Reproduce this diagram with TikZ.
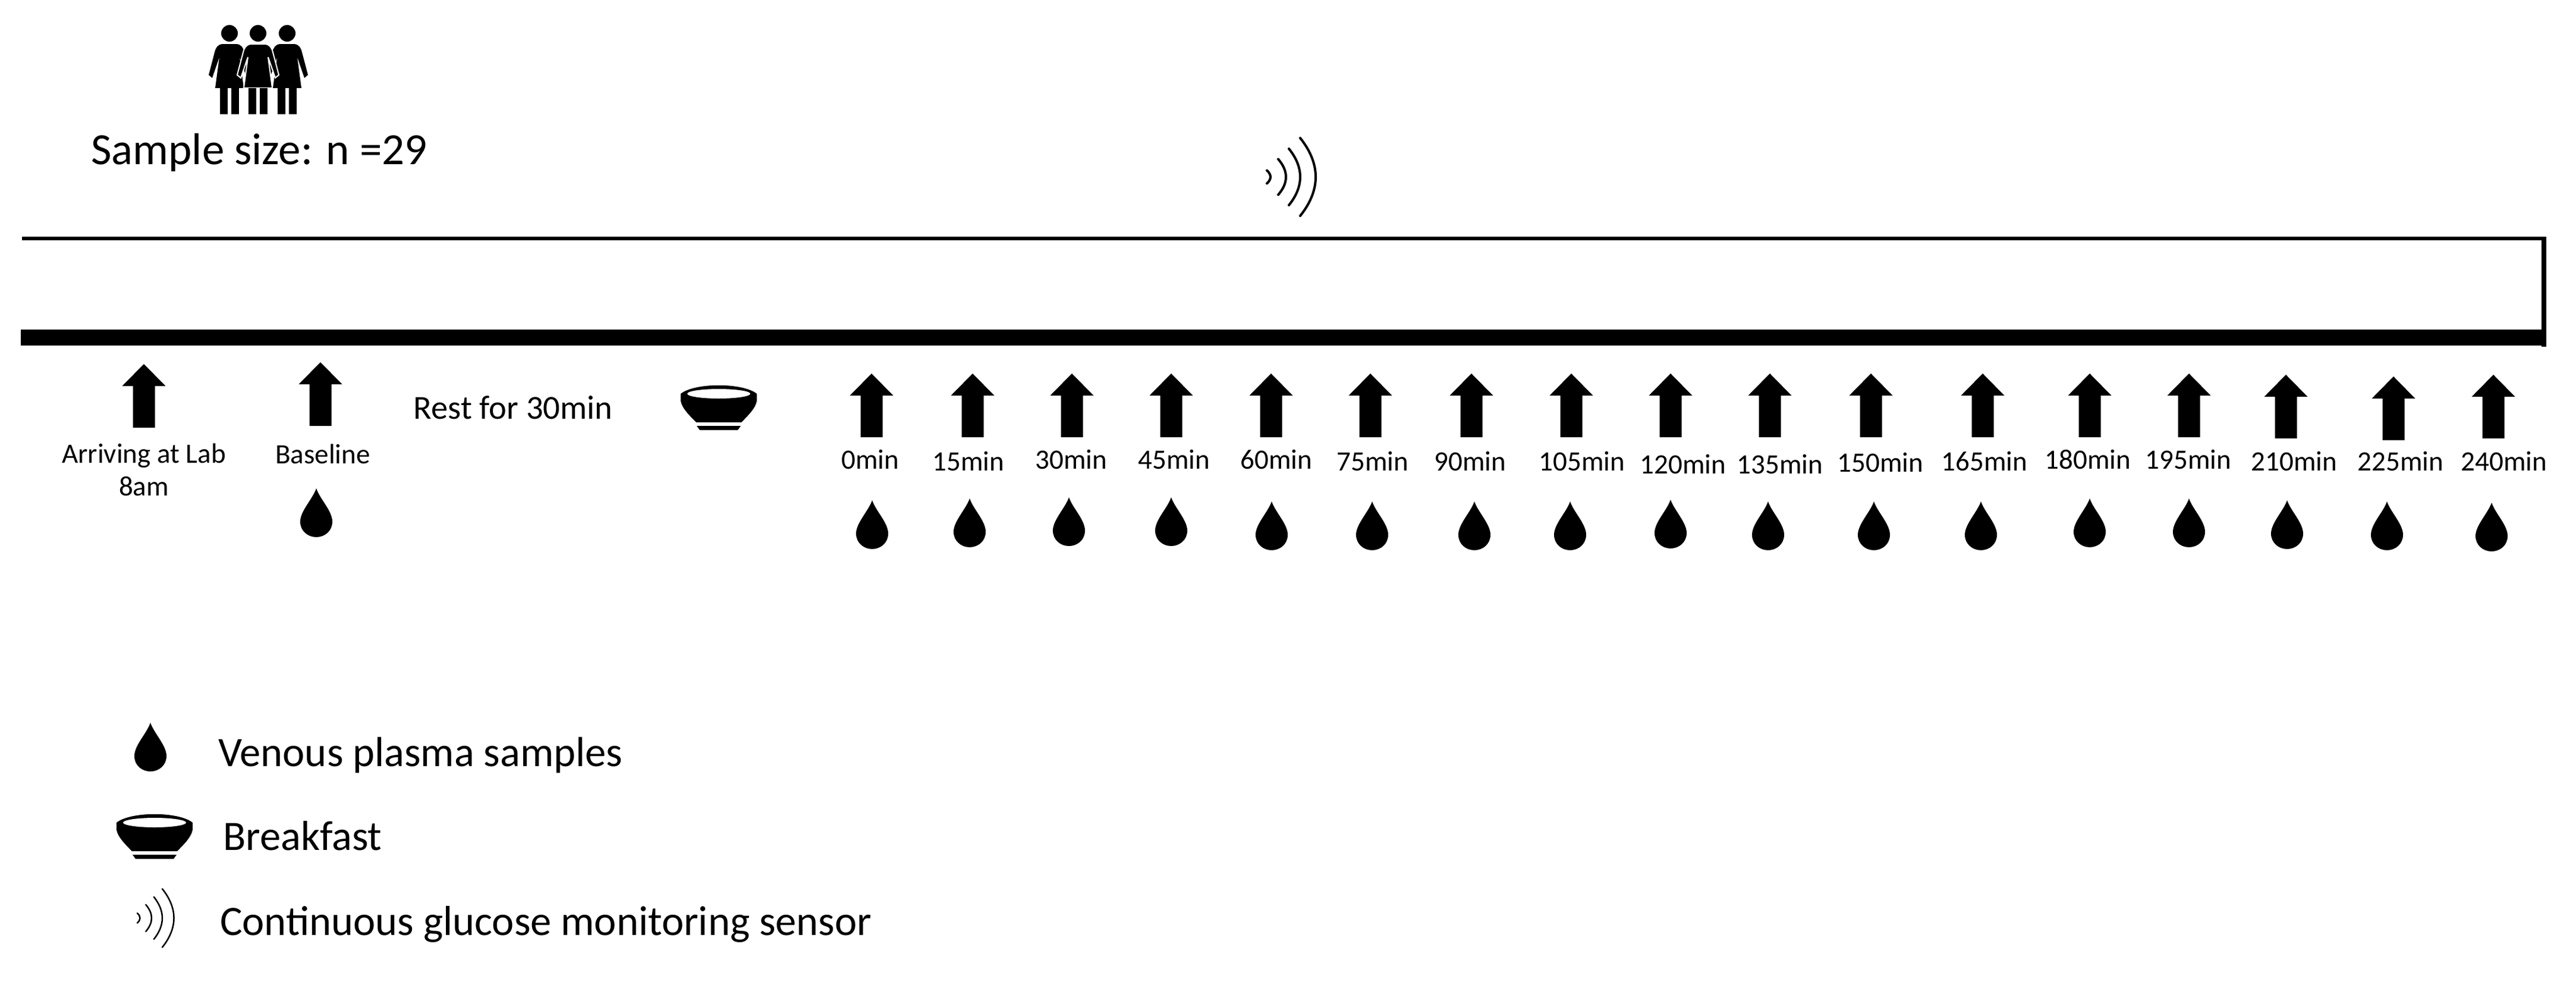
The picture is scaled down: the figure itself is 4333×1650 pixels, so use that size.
\documentclass[tikz,border=0pt]{standalone}
\usepackage{fontspec}
\setmainfont{Carlito}

\tikzset{
  biglabel/.style={anchor=base, inner sep=0pt, font=\fontsize{75}{88}\selectfont},
  leglabel/.style={anchor=base west, inner sep=0pt, font=\fontsize{70.5}{84}\selectfont},
  midlabel/.style={anchor=base, inner sep=0pt, font=\fontsize{56.5}{66}\selectfont},
  timelabel/.style={anchor=base, inner sep=0pt, font=\fontsize{47}{55}\selectfont},
  pics/uparrow/.style={code={
    \fill (0,0) -- (36.5,37) -- (18.5,37) -- (18.5,107) -- (-18.5,107) -- (-18.5,37) -- (-36.5,37) -- cycle;
  }},
  pics/blooddrop/.style={code={
    \fill (0,0) .. controls (-6,18) and (-27,38) .. (-27,56) .. controls (-27,72) and (-14,82) .. (0,82)
      .. controls (14,82) and (27,72) .. (27,56) .. controls (27,38) and (6,18) .. (0,0) -- cycle;
  }},
  pics/bowl/.style={code={
    \fill (-64,14) .. controls (-40,-5) and (40,-5) .. (64,14) -- (64,26) .. controls (62,38) and (50,50) .. (38,62)
      -- (-38,62) .. controls (-50,50) and (-62,38) .. (-64,26) -- cycle;
    \fill (-37,68) -- (37,68) -- (32,75) -- (-32,75) -- cycle;
    \fill[white] (0,14) ellipse [x radius=53, y radius=8];
  }},
  pics/waves/.style={code={
    \draw[line width=#1, line cap=round] (0,-11) .. controls (8,-3.7) and (8,3.7) .. (0,11);
    \draw[line width=#1, line cap=round] (19,-30) .. controls (36.3,-10) and (36.3,10) .. (19,30);
    \draw[line width=#1, line cap=round] (37,-47.5) .. controls (62.3,-15.8) and (62.3,15.8) .. (37,47.5);
    \draw[line width=#1, line cap=round] (56,-65.5) .. controls (90.7,-21.8) and (90.7,21.8) .. (56,65.5);
  }},
  pics/woman/.style={code={
    \filldraw[fill=black, draw=#1, line width=2] (-12,32) -- (12,32) .. controls (20,33) and (23,38) .. (25,46)
      -- (35,84) -- (29,89) -- (17,54) -- (24,106) -- (-24,106) -- (-17,54) -- (-29,89) -- (-35,84) -- (-25,46)
      .. controls (-23,38) and (-20,33) .. (-12,32) -- cycle;
    \fill (0,14) circle [radius=14];
    \fill (-16,106) rectangle (-3,150);
    \fill (3,106) rectangle (16,150);
  }},
}

\begin{document}
\begin{tikzpicture}[x=1pt, y=-1pt]
  \useasboundingbox (0,0) rectangle (4333,1650);

  % participants
  \pic at (386,42) {woman=none};
  \pic at (483,42) {woman=none};
  \pic at (434,42) {woman=white};
  \node[biglabel] (samplesize) at (436,276) {Sample size: n =29};

  % sensor and timeline
  \pic at (2131,297.5) {waves=4};
  \coordinate (linestart) at (37,401);
  \coordinate (linecorner) at (4279,401);
  \coordinate (cornerfoot) at (4279,583);
  \coordinate (barstart) at (35,567.5);
  \coordinate (barend) at (4283,567.5);
  \draw[line width=6] (linestart) -- (linecorner);
  \draw[line width=8] (4279,398) -- (cornerfoot);
  \draw[line width=27] (barstart) -- (barend);

  % before breakfast
  \pic at (242,612) {uparrow};
  \pic at (539,609) {uparrow};
  \node[timelabel] (arriving) at (242,778) {Arriving at Lab};
  \node[timelabel] (eightam) at (242,833) {8am};
  \node[timelabel] (baseline) at (543,779) {Baseline};
  \pic at (532,821) {blooddrop};
  \node[midlabel] (rest) at (863,704) {Rest for 30min};
  \pic at (1209,648) {bowl};

  % sampling times: time/arrow x/tip y/label x/baseline y/drop x/drop top
  \foreach \t/\ax/\ay/\lx/\ly/\dx/\dy in {
    0/1466/628/1464/788/1467/841, 15/1636/628/1629/791/1631/838,
    30/1803/628/1802/788/1798/836, 45/1970/628/1975/788/1970/836,
    60/2138/628/2147/788/2139/843, 75/2305/628/2309/791/2308/843,
    90/2475/628/2473/791/2480/843, 105/2643/628/2661/791/2641/843,
    120/2810/628/2831/796/2810/840, 135/2977/628/2994/796/2974/843,
    150/3147/628/3163/793/3152/843, 165/3335/628/3338/791/3332/843,
    180/3515/628/3512/788/3515/838, 195/3682/628/3681/788/3682/838,
    210/3845/630/3859/791/3847/841, 225/4026/633/4038/791/4015/843,
    240/4194/630/4212/791/4191/845} {
    \pic at (\ax,\ay) {uparrow};
    \node[timelabel] (time\t) at (\lx,\ly) {\t min};
    \pic at (\dx,\dy) {blooddrop};
  }

  % legend
  \pic at (253,1215) {blooddrop};
  \node[leglabel] (legplasma) at (367,1288) {Venous plasma samples};
  \pic at (260,1369) {bowl};
  \node[leglabel] (legbreakfast) at (375,1429) {Breakfast};
  \pic[scale=.75] at (231,1543.5) {waves=2.5};
  \node[leglabel] (legsensor) at (370,1572) {Continuous glucose monitoring sensor};
\end{tikzpicture}
\end{document}
